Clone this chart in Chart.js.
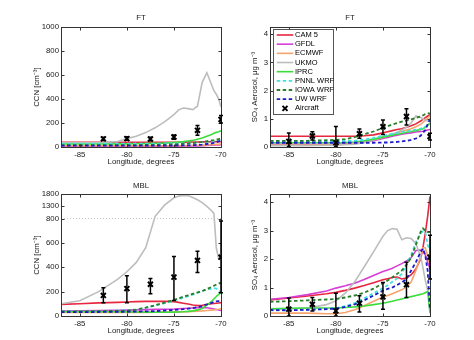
<!DOCTYPE html>
<html><head><meta charset="utf-8">
<script src="https://cdn.jsdelivr.net/npm/chart.js@4"></script>
<style>
html,body{margin:0;padding:0;background:#fff;}
#wrap{position:relative;width:474px;height:340px;overflow:hidden;background:#fff;}
canvas{position:absolute;}
</style></head><body>
<div id="wrap">
<canvas id="c1" width="237" height="170" style="left:0;top:0;width:237px;height:170px"></canvas>
<canvas id="c2" width="237" height="170" style="left:237px;top:0;width:237px;height:170px"></canvas>
<canvas id="c3" width="237" height="170" style="left:0;top:170px;width:237px;height:170px"></canvas>
<canvas id="c4" width="237" height="170" style="left:237px;top:170px;width:237px;height:170px"></canvas>
</div>
<script>
// ---------------- DATA ----------------
const modelNames = ['CAM 5','GFDL','ECMWF','UKMO','IPRC','PNNL WRF','IOWA WRF','UW WRF'];
const aircraftName = 'Aircraft';
const lon = [-87,-85,-83,-81,-80,-79,-78,-77,-76,-75,-74.5,-74,-73.5,-73,-72.5,-72,-71.5,-71,-70.75,-70.5,-70.25,-70];
const xTickValues = [-85,-80,-75,-70];
const ccnFtTicks = [0,200,400,600,800,1000];
const so4Ticks = [0,1,2,3,4];
const mblCcnTickValues = [0,200,400,600,800,1300,1800];
const mblCcnBreak = 800;

// FT CCN
const ftCcnCAM5  = [40,40,40,40,40,40,40,40,40,40,40,41,41,42,42,43,43,44,44,45,45,45];
const ftCcnGFDL  = [6,6,6,6,6,6,6,6,7,7,7,8,8,9,9,10,12,14,15,17,18,20];
const ftCcnECMWF = [10,10,10,10,10,10,10,10,11,11,12,12,13,14,14,15,17,19,20,22,23,25];
const ftCcnUKMO  = [35,35,38,45,70,90,120,160,210,270,310,325,320,312,340,540,620,520,470,440,400,335];
const ftCcnIPRC  = [25,25,25,26,26,27,28,30,32,38,41,45,50,55,65,75,90,105,115,122,128,135];
const ftCcnPNNL  = [28,28,28,28,28,28,28,28,29,30,31,32,33,35,37,40,42,45,47,50,52,55];
const ftCcnIOWA  = [15,15,15,15,15,16,17,18,20,22,24,27,30,33,37,42,48,55,58,62,66,70];
const ftCcnUW    = [12,12,12,12,12,12,12,12,12,12,13,13,14,15,17,20,25,30,35,40,47,55];
const ftCcnAirLon = [-82.5,-80,-77.5,-75,-72.5,-70];
const ftCcnAir    = [68,70,67,83,139,230];
const ftCcnAirLo  = [55,57,52,65,98,200];
const ftCcnAirHi  = [82,85,82,101,180,262];

// FT SO4
const ftSo4CAM5  = [0.38,0.38,0.38,0.38,0.38,0.38,0.38,0.40,0.43,0.50,0.54,0.58,0.62,0.65,0.70,0.75,0.82,0.92,0.98,1.04,1.10,1.15];
const ftSo4GFDL  = [0.10,0.10,0.10,0.10,0.10,0.11,0.13,0.17,0.22,0.30,0.34,0.38,0.42,0.45,0.48,0.50,0.53,0.55,0.56,0.58,0.60,0.62];
const ftSo4ECMWF = [0.07,0.07,0.07,0.08,0.08,0.10,0.12,0.18,0.25,0.35,0.40,0.45,0.50,0.55,0.60,0.65,0.72,0.80,0.87,0.95,1.02,1.10];
const ftSo4UKMO  = [0.05,0.05,0.05,0.06,0.06,0.08,0.10,0.15,0.25,0.35,0.40,0.45,0.52,0.60,0.70,0.85,1.10,1.05,1.00,0.95,0.92,0.90];
const ftSo4IPRC  = [0.15,0.15,0.15,0.15,0.15,0.16,0.18,0.22,0.28,0.35,0.38,0.42,0.45,0.48,0.52,0.55,0.58,0.62,0.65,0.70,0.77,0.85];
const ftSo4PNNL  = [0.20,0.20,0.20,0.20,0.20,0.21,0.22,0.26,0.32,0.40,0.43,0.47,0.50,0.53,0.56,0.58,0.62,0.65,0.68,0.72,0.75,0.78];
const ftSo4IOWA  = [0.22,0.22,0.22,0.24,0.25,0.28,0.35,0.45,0.55,0.68,0.74,0.80,0.85,0.90,0.94,0.98,1.03,1.08,1.12,1.17,1.20,1.18];
const ftSo4UW    = [0.15,0.15,0.15,0.15,0.15,0.15,0.15,0.15,0.15,0.16,0.16,0.17,0.18,0.20,0.22,0.25,0.30,0.40,0.50,0.60,0.80,1.00];
const ftSo4AirLon = [-85,-82.5,-80,-77.5,-75,-72.5,-70];
const ftSo4Air    = [0.20,0.39,0.15,0.47,0.72,1.08,0.37];
const ftSo4AirLo  = [0.02,0.25,0.01,0.31,0.44,0.78,0.25];
const ftSo4AirHi  = [0.50,0.54,0.73,0.64,0.96,1.36,0.49];

// MBL CCN
const mblCcnCAM5  = [95,100,108,112,115,118,120,120,120,118,112,105,98,90,85,88,95,100,103,105,107,110];
const mblCcnGFDL  = [40,42,44,46,48,50,52,54,56,58,60,62,64,66,68,70,68,62,58,54,50,45];
const mblCcnECMWF = [30,30,30,30,30,30,30,31,32,33,34,35,36,38,40,42,45,48,50,53,56,60];
const mblCcnUKMO  = [100,125,200,300,363,440,560,890,1350,1650,1720,1750,1740,1660,1570,1450,1300,1120,1000,560,470,490];
const mblCcnIPRC  = [35,35,35,35,34,33,32,31,31,32,33,35,38,42,50,62,90,120,140,160,178,192];
const mblCcnPNNL  = [40,40,42,45,48,55,68,85,105,125,138,150,162,175,190,205,215,225,228,225,210,195];
const mblCcnIOWA  = [38,38,40,42,44,52,68,88,110,132,145,158,170,182,193,205,222,238,248,258,266,275];
const mblCcnUW    = [32,32,33,34,35,36,38,40,45,50,53,56,60,65,72,82,95,108,115,120,122,118];
const mblCcnAirLon = [-82.5,-80,-77.5,-75,-72.5,-70];
const mblCcnAir    = [169,225,261,319,456,483];
const mblCcnAirLo  = [108,108,183,128,358,190];
const mblCcnAirHi  = [231,331,308,489,531,780];

// MBL SO4
const mblSo4CAM5  = [0.56,0.63,0.70,0.78,0.83,0.90,0.98,1.07,1.17,1.27,1.31,1.35,1.37,1.30,1.33,1.45,1.65,2.00,2.40,2.90,3.50,4.20];
const mblSo4GFDL  = [0.59,0.65,0.75,0.88,0.98,1.06,1.15,1.28,1.42,1.56,1.62,1.68,1.76,1.84,1.93,2.05,2.30,2.32,2.28,2.15,1.90,1.66];
const mblSo4ECMWF = [0.10,0.10,0.10,0.08,0.08,0.12,0.22,0.36,0.52,0.66,0.72,0.78,0.85,0.92,1.02,1.20,1.60,2.10,2.40,2.40,2.10,1.80];
const mblSo4UKMO  = [0.25,0.25,0.28,0.40,0.53,0.80,1.20,1.72,2.25,2.80,3.00,3.07,3.05,2.68,2.75,2.72,2.55,2.10,1.70,1.25,0.90,0.55];
const mblSo4IPRC  = [0.25,0.27,0.28,0.28,0.28,0.30,0.32,0.35,0.40,0.45,0.48,0.52,0.56,0.60,0.64,0.68,0.72,0.76,0.78,0.82,0.86,0.10];
const mblSo4PNNL  = [0.20,0.20,0.22,0.25,0.28,0.35,0.45,0.62,0.80,0.98,1.08,1.20,1.32,1.48,1.80,2.15,2.60,2.90,2.98,2.95,2.50,2.30];
const mblSo4IOWA  = [0.50,0.52,0.55,0.58,0.60,0.65,0.72,0.82,0.96,1.15,1.25,1.36,1.48,1.60,1.80,2.05,2.50,2.95,3.08,3.00,2.95,2.95];
const mblSo4UW    = [0.21,0.20,0.22,0.24,0.26,0.32,0.41,0.55,0.72,0.89,0.95,1.00,1.09,1.18,1.30,1.60,1.89,2.25,2.37,2.13,1.60,0.20];
const mblSo4AirLon = [-85,-82.5,-80,-77.5,-75,-72.5,-70];
const mblSo4Air    = [0.24,0.41,0.18,0.45,0.67,1.10,2.07];
const mblSo4AirLo  = [0.00,0.18,0.00,0.14,0.24,0.65,1.30];
const mblSo4AirHi  = [0.63,0.65,0.80,0.71,1.18,1.89,2.84];

// ---------------- STYLE ----------------
const FONT = "'Liberation Sans', Arial, Helvetica, sans-serif";
const TXT = '#1a1a1a';
const FS = 7.8;
const modelColors = ['#e8263f','#d63fd6','#f5a46c','#bdbdbd','#3ddc3d','#44e0e0','#2a7d2a','#1c1cc8'];
const modelDashed = [false,false,false,false,false,true,true,true];
Chart.defaults.font.family = FONT;
Chart.defaults.font.size = FS;
Chart.defaults.color = TXT;

// broken axis transform for MBL CCN (above 800 compressed 5x)
const brk = v => v <= mblCcnBreak ? v : mblCcnBreak + (v - mblCcnBreak) / 5;

function makeDatasets(series, airLon, airVal, airLo, airHi, tf) {
  const f = tf || (v => v);
  const ds = series.map((vals, i) => ({
    label: modelNames[i],
    data: lon.map((x, j) => ({x, y: f(vals[j])})),
    borderColor: modelColors[i],
    backgroundColor: modelColors[i],
    borderWidth: modelDashed[i] ? 1.8 : 1.6,
    borderDash: modelDashed[i] ? [3.5, 2.5] : [],
    pointRadius: 0,
    tension: 0,
    order: 20 - i,
    legendEntry: true
  }));
  ds.push({
    label: aircraftName,
    type: 'scatter',
    data: airLon.map((x, j) => ({x, y: f(airVal[j])})),
    errLo: airLo.map(f), errHi: airHi.map(f),
    showLine: false, pointStyle: 'crossRot', pointRadius: 3.5, borderWidth: 2,
    borderColor: '#000', backgroundColor: '#000', order: 0, legendEntry: true
  });
  return ds;
}

// ---------------- PLUGINS ----------------
const framePlugin = {
  id: 'frame',
  afterDatasetsDraw(chart) {
    const {ctx, chartArea: a, scales} = chart;
    ctx.save();
    ctx.strokeStyle = '#333'; ctx.lineWidth = 1;
    const L = Math.round(a.left) + 0.5, T = Math.round(a.top) + 0.5;
    const R = Math.round(a.right) + 0.5, B = Math.round(a.bottom) + 0.5;
    ctx.strokeRect(L, T, R - L, B - T);
    const tl = 3;
    ctx.beginPath();
    scales.x.ticks.forEach(t => {
      const px = Math.round(scales.x.getPixelForValue(t.value)) + 0.5;
      ctx.moveTo(px, B); ctx.lineTo(px, B - tl);
      ctx.moveTo(px, T); ctx.lineTo(px, T + tl);
    });
    scales.y.ticks.forEach(t => {
      const py = Math.round(scales.y.getPixelForValue(t.value)) + 0.5;
      ctx.moveTo(L, py); ctx.lineTo(L + tl, py);
      ctx.moveTo(R, py); ctx.lineTo(R - tl, py);
    });
    ctx.stroke();
    ctx.restore();
  }
};

const errorBarPlugin = {
  id: 'errbars',
  afterDatasetsDraw(chart) {
    const {ctx, chartArea: a, scales: {x, y}} = chart;
    ctx.save();
    ctx.beginPath(); ctx.rect(a.left, a.top - 2, a.right - a.left + 2, a.bottom - a.top + 2); ctx.clip();
    chart.data.datasets.forEach(ds => {
      if (!ds.errLo) return;
      ctx.strokeStyle = '#000'; ctx.lineWidth = 1.5;
      ds.data.forEach((p, j) => {
        const px = x.getPixelForValue(p.x);
        const y1 = y.getPixelForValue(ds.errLo[j]), y2 = y.getPixelForValue(ds.errHi[j]);
        ctx.beginPath();
        ctx.moveTo(px, y1); ctx.lineTo(px, y2);
        ctx.moveTo(px - 2, y1); ctx.lineTo(px + 2, y1);
        ctx.moveTo(px - 2, y2); ctx.lineTo(px + 2, y2);
        ctx.stroke();
      });
    });
    ctx.restore();
  }
};

const legendPlugin = {
  id: 'inLegend',
  afterDatasetsDraw(chart) {
    const {ctx, chartArea: a} = chart;
    const items = chart.data.datasets.filter(d => d.legendEntry);
    const x0 = Math.round(a.left + 3), y0 = Math.round(a.top + 2), w = 60, rowH = 9.17;
    const h = Math.round(items.length * rowH + 2);
    ctx.save();
    ctx.fillStyle = '#fff';
    ctx.fillRect(x0, y0, w, h);
    ctx.strokeStyle = '#555'; ctx.lineWidth = 1;
    ctx.strokeRect(x0 + 0.5, y0 + 0.5, w, h);
    ctx.font = '7.5px ' + FONT; ctx.textBaseline = 'middle';
    items.forEach((d, i) => {
      const cy = y0 + 6 + i * rowH;
      if (d.pointStyle === 'crossRot') {
        const cx = x0 + 12, r = 2.5;
        ctx.strokeStyle = '#000'; ctx.lineWidth = 2; ctx.setLineDash([]);
        ctx.beginPath();
        ctx.moveTo(cx - r, cy - r); ctx.lineTo(cx + r, cy + r);
        ctx.moveTo(cx + r, cy - r); ctx.lineTo(cx - r, cy + r);
        ctx.stroke();
      } else {
        ctx.strokeStyle = d.borderColor; ctx.lineWidth = d.borderWidth;
        ctx.setLineDash(d.borderDash);
        ctx.beginPath(); ctx.moveTo(x0 + 3.7, cy); ctx.lineTo(x0 + 20.3, cy); ctx.stroke();
        ctx.setLineDash([]);
      }
      ctx.fillStyle = '#000';
      ctx.fillText(d.label, x0 + 22, cy);
    });
    ctx.restore();
  }
};

// ---------------- CHART BUILDER ----------------
function makeChart(id, datasets, cfg) {
  return new Chart(document.getElementById(id), {
    type: 'line',
    data: {datasets},
    options: {
      responsive: false, animation: false, devicePixelRatio: 1, events: [],
      layout: {padding: cfg.pad},
      plugins: {
        legend: {display: false}, tooltip: {enabled: false},
        title: {display: true, text: cfg.title, fullSize: false,
                font: {size: FS, weight: 'normal', family: FONT}, color: TXT, padding: cfg.titlePad}
      },
      scales: {
        x: {
          type: 'linear', min: -87, max: -70,
          grid: {display: false, drawTicks: false, tickLength: 0}, border: {display: false},
          ticks: {padding: 3, color: TXT, autoSkip: false, maxRotation: 0, font: {size: FS},
                  callback: v => String(v)},
          afterBuildTicks: s => { s.ticks = xTickValues.map(v => ({value: v})); },
          afterFit: s => { s.height = 20; },
          title: {display: true, text: 'Longitude, degrees', padding: 0, color: TXT, font: {size: FS}}
        },
        y: {
          type: 'linear', min: cfg.yMin, max: cfg.yMax,
          grid: {display: false, drawTicks: false, tickLength: 0}, border: {display: false},
          ticks: {padding: 2, color: TXT, autoSkip: false, font: {size: FS}, callback: cfg.yLabel},
          afterBuildTicks: s => { s.ticks = cfg.yTicks.map(v => ({value: v})); },
          afterFit: s => { s.width = cfg.yWidth; },
          title: {display: true, text: cfg.yTitle, padding: 0, color: TXT, font: {size: FS}}
        }
      }
    },
    plugins: cfg.plugins
  });
}

// ---------------- PANELS ----------------
makeChart('c1',
  makeDatasets([ftCcnCAM5, ftCcnGFDL, ftCcnECMWF, ftCcnUKMO, ftCcnIPRC, ftCcnPNNL, ftCcnIOWA, ftCcnUW],
               ftCcnAirLon, ftCcnAir, ftCcnAirLo, ftCcnAirHi),
  {title: 'FT', pad: {left: 32.3, right: 16, top: 6, bottom: 3}, titlePad: {top: 6.7, bottom: 5.1},
   yMin: 0, yMax: 1000, yTicks: ccnFtTicks, yLabel: v => String(v), yWidth: 28.7,
   yTitle: 'CCN [cm⁻³]', plugins: [framePlugin, errorBarPlugin]});

makeChart('c2',
  makeDatasets([ftSo4CAM5, ftSo4GFDL, ftSo4ECMWF, ftSo4UKMO, ftSo4IPRC, ftSo4PNNL, ftSo4IOWA, ftSo4UW],
               ftSo4AirLon, ftSo4Air, ftSo4AirLo, ftSo4AirHi),
  {title: 'FT', pad: {left: 13.6, right: 44, top: 6, bottom: 3}, titlePad: {top: 6.7, bottom: 5.1},
   yMin: 0, yMax: 4.25, yTicks: so4Ticks, yLabel: v => String(v), yWidth: 19.4,
   yTitle: 'SO₄ Aerosol, μg m⁻³', plugins: [framePlugin, errorBarPlugin, legendPlugin]});

const mblCcnSets = makeDatasets([mblCcnCAM5, mblCcnGFDL, mblCcnECMWF, mblCcnUKMO, mblCcnIPRC, mblCcnPNNL, mblCcnIOWA, mblCcnUW],
               mblCcnAirLon, mblCcnAir, mblCcnAirLo, mblCcnAirHi, brk);
mblCcnSets.push({label: '', data: [{x: -87, y: brk(mblCcnBreak)}, {x: -70, y: brk(mblCcnBreak)}],
  borderColor: '#c4c4c4', borderWidth: 1, borderDash: [1, 2], pointRadius: 0, order: 40});
makeChart('c3', mblCcnSets,
  {title: 'MBL', pad: {left: 32.3, right: 16, top: 6, bottom: 4}, titlePad: {top: 5.0, bottom: 3.8},
   yMin: 0, yMax: brk(1800), yTicks: mblCcnTickValues.map(brk),
   yLabel: v => { const i = mblCcnTickValues.map(brk).indexOf(v); return i >= 0 ? String(mblCcnTickValues[i]) : ''; },
   yWidth: 28.7, yTitle: 'CCN [cm⁻³]', plugins: [framePlugin, errorBarPlugin]});

makeChart('c4',
  makeDatasets([mblSo4CAM5, mblSo4GFDL, mblSo4ECMWF, mblSo4UKMO, mblSo4IPRC, mblSo4PNNL, mblSo4IOWA, mblSo4UW],
               mblSo4AirLon, mblSo4Air, mblSo4AirLo, mblSo4AirHi),
  {title: 'MBL', pad: {left: 13.6, right: 44, top: 6, bottom: 4}, titlePad: {top: 5.0, bottom: 3.8},
   yMin: 0, yMax: 4.28, yTicks: so4Ticks, yLabel: v => String(v), yWidth: 19.4,
   yTitle: 'SO₄ Aerosol, μg m⁻³', plugins: [framePlugin, errorBarPlugin]});
</script>
</body></html>
